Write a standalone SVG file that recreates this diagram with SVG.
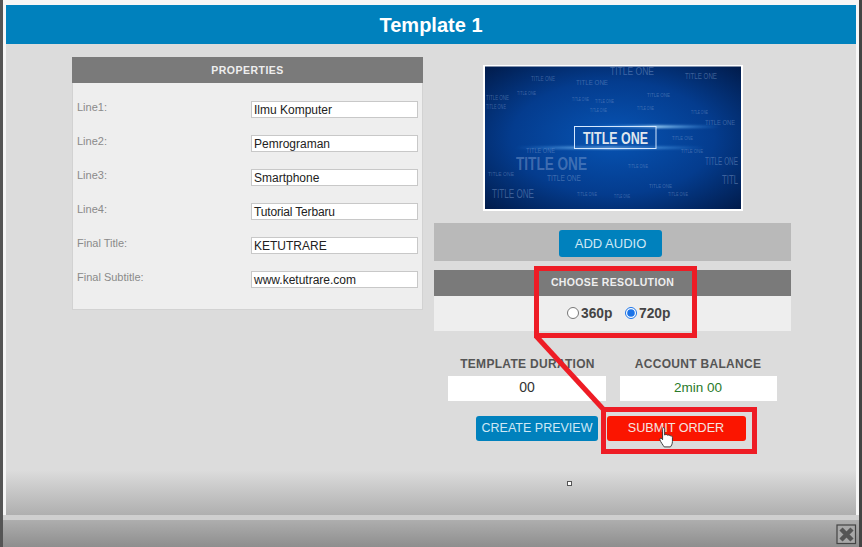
<svg xmlns="http://www.w3.org/2000/svg" width="862" height="547" viewBox="0 0 862 547">
<style>
text{font-family:"Liberation Sans",Arial,sans-serif}
.lbl{font-size:11px;fill:#8a8a8a}
.inp{fill:#fff;stroke:#c8c8c8;stroke-width:1}
.val{font-size:12px;fill:#222}
.hd{fill:#7a7a7a}
.hdt{font-size:10.5px;font-weight:bold;fill:#eee;letter-spacing:.5px;text-anchor:middle}
.btnt{font-size:13px;fill:#cfe8f5;text-anchor:middle}
.fld{font-size:12px;font-weight:bold;fill:#555;text-anchor:middle;letter-spacing:.3px}
.red{fill:none;stroke:#ee1c25;stroke-width:5}
.tt{fill:#8fabd8;fill-opacity:.42}
</style>
<defs>
<linearGradient id="fade" x1="0" y1="0" x2="0" y2="1"><stop offset="0" stop-color="#dcdcdc"/><stop offset="1" stop-color="#afafaf"/></linearGradient>
<linearGradient id="foot" x1="0" y1="0" x2="0" y2="1"><stop offset="0" stop-color="#aeaeae"/><stop offset="1" stop-color="#8e8e8e"/></linearGradient>
<radialGradient id="sky" cx=".5" cy=".5" r=".72"><stop offset="0" stop-color="#0754b4"/><stop offset=".55" stop-color="#043c8e"/><stop offset="1" stop-color="#011a48"/></radialGradient>
<linearGradient id="glow" x1="0" y1="0" x2="1" y2="0"><stop offset="0" stop-color="#3aa0ff" stop-opacity="0"/><stop offset=".5" stop-color="#b5e4ff"/><stop offset="1" stop-color="#3aa0ff" stop-opacity="0"/></linearGradient>
<filter id="soft" x="-10%" y="-300%" width="120%" height="700%"><feGaussianBlur stdDeviation="1.200"/></filter>
</defs>
<rect width="862" height="547" fill="#555"/>
<rect x="3" y="0" width="856" height="547" fill="#f6f6f6"/>
<rect x="6" y="5" width="850" height="510" fill="#dcdcdc"/>
<rect x="6" y="470" width="850" height="45" fill="url(#fade)"/>
<rect x="0" y="515" width="862" height="5" fill="#cfcfcf"/>
<rect x="0" y="520" width="862" height="27" fill="url(#foot)"/>
<rect x="0" y="0" width="3" height="547" fill="#555"/>
<rect x="859" y="0" width="3" height="547" fill="#444"/>

<g id="title-bar">
<rect x="6" y="5" width="850" height="39" fill="#0081bd"/>
<text x="431" y="32" font-size="20" font-weight="bold" fill="#fff" text-anchor="middle">Template 1</text>
</g>

<g id="properties">
<rect x="72.500" y="57.500" width="350" height="252" fill="#eee" stroke="#d2d2d2"/>
<rect x="72" y="57" width="351" height="26" class="hd"/>
<text x="247.500" y="74" class="hdt">PROPERTIES</text>
<g id="line1"><text x="77" y="111" class="lbl">Line1:</text><rect x="251.500" y="101.500" width="166" height="16" class="inp"/><text x="254" y="113.500" class="val">Ilmu Komputer</text></g>
<g id="line2"><text x="77" y="145" class="lbl">Line2:</text><rect x="251.500" y="135.500" width="166" height="16" class="inp"/><text x="254" y="147.500" class="val">Pemrograman</text></g>
<g id="line3"><text x="77" y="179" class="lbl">Line3:</text><rect x="251.500" y="169.500" width="166" height="16" class="inp"/><text x="254" y="181.500" class="val">Smartphone</text></g>
<g id="line4"><text x="77" y="213" class="lbl">Line4:</text><rect x="251.500" y="203.500" width="166" height="16" class="inp"/><text x="254" y="215.500" class="val" textLength="81">Tutorial Terbaru</text></g>
<g id="final-title"><text x="77" y="247" class="lbl">Final Title:</text><rect x="251.500" y="237.500" width="166" height="16" class="inp"/><text x="254" y="249.500" class="val">KETUTRARE</text></g>
<g id="final-subtitle"><text x="77" y="281" class="lbl">Final Subtitle:</text><rect x="251.500" y="271.500" width="166" height="16" class="inp"/><text x="254" y="284" class="val">www.ketutrare.com</text></g>
</g>

<g id="thumbnail">
<rect x="483" y="65" width="260" height="146" fill="#fff"/>
<rect x="485" y="66.500" width="256" height="142.500" fill="url(#sky)"/>
<g>
<text x="516" y="170" font-size="19" font-weight="bold" class="tt" textLength="71" lengthAdjust="spacingAndGlyphs">TITLE ONE</text>
<text x="492" y="198" font-size="12" class="tt" textLength="42" lengthAdjust="spacingAndGlyphs">TITLE ONE</text>
<text x="547" y="181" font-size="9" class="tt" textLength="34" lengthAdjust="spacingAndGlyphs">TITLE ONE</text>
<text x="610" y="75" font-size="11" class="tt" textLength="44" lengthAdjust="spacingAndGlyphs">TITLE ONE</text>
<text x="685" y="79" font-size="9" class="tt" textLength="32" lengthAdjust="spacingAndGlyphs">TITLE ONE</text>
<text x="531" y="81" font-size="7" class="tt" textLength="24" lengthAdjust="spacingAndGlyphs">TITLE ONE</text>
<text x="576" y="85" font-size="8" class="tt" textLength="32" lengthAdjust="spacingAndGlyphs">TITLE ONE</text>
<text x="486" y="100" font-size="7" class="tt" textLength="23" lengthAdjust="spacingAndGlyphs">TITLE ONE</text>
<text x="486" y="109" font-size="7" class="tt" textLength="20" lengthAdjust="spacingAndGlyphs">TITLE ONE</text>
<text x="517" y="95" font-size="6" class="tt" textLength="19" lengthAdjust="spacingAndGlyphs">TITLE ONE</text>
<text x="705" y="125" font-size="8" class="tt" textLength="30" lengthAdjust="spacingAndGlyphs">TITLE ONE</text>
<text x="705" y="165" font-size="10" class="tt" textLength="33" lengthAdjust="spacingAndGlyphs">TITLE ONE</text>
<text x="722" y="184" font-size="13" class="tt" textLength="16" lengthAdjust="spacingAndGlyphs">TITL</text>
<text x="526" y="153" font-size="7" class="tt" textLength="29" lengthAdjust="spacingAndGlyphs">TITLE ONE</text>
<text x="649" y="188" font-size="6" class="tt" textLength="23" lengthAdjust="spacingAndGlyphs">TITLE ONE</text>
<text x="668" y="196" font-size="6" class="tt" textLength="20" lengthAdjust="spacingAndGlyphs">TITLE ONE</text>
<text x="572" y="101" font-size="5" class="tt" textLength="17" lengthAdjust="spacingAndGlyphs">TITLE ONE</text>
<text x="595" y="103" font-size="5" class="tt" textLength="19" lengthAdjust="spacingAndGlyphs">TITLE ONE</text>
<text x="647" y="97" font-size="5" class="tt" textLength="23" lengthAdjust="spacingAndGlyphs">TITLE ONE</text>
<text x="590" y="112" font-size="5" class="tt" textLength="17" lengthAdjust="spacingAndGlyphs">TITLE ONE</text>
<text x="637" y="110" font-size="5" class="tt" textLength="17" lengthAdjust="spacingAndGlyphs">TITLE ONE</text>
<text x="691" y="114" font-size="5" class="tt" textLength="17" lengthAdjust="spacingAndGlyphs">TITLE ONE</text>
<text x="672" y="140" font-size="6" class="tt" textLength="21" lengthAdjust="spacingAndGlyphs">TITLE ONE</text>
<text x="681" y="153" font-size="6" class="tt" textLength="22" lengthAdjust="spacingAndGlyphs">TITLE ONE</text>
<text x="488" y="176" font-size="6" class="tt" textLength="26" lengthAdjust="spacingAndGlyphs">TITLE ONE</text>
<text x="628" y="168" font-size="5" class="tt" textLength="20" lengthAdjust="spacingAndGlyphs">TITLE ONE</text>
<text x="577" y="196" font-size="5" class="tt" textLength="20" lengthAdjust="spacingAndGlyphs">TITLE ONE</text>
<text x="614" y="198" font-size="5" class="tt" textLength="16" lengthAdjust="spacingAndGlyphs">TITLE ONE</text>
</g>
<rect x="590" y="125.500" width="130" height="2.500" fill="url(#glow)" filter="url(#soft)"/>
<rect x="515" y="146.500" width="190" height="2.500" fill="url(#glow)" filter="url(#soft)"/>
<rect x="574.500" y="126.500" width="81.500" height="22" fill="#0a4fa8" fill-opacity=".45" stroke="#d5e8ff" stroke-width="1"/>
<text x="583" y="144" font-size="17" font-weight="bold" fill="#dfe6ee" textLength="65" lengthAdjust="spacingAndGlyphs">TITLE ONE</text>
</g>

<g id="add-audio">
<rect x="434" y="223" width="357" height="38" fill="#b9b9b9"/>
<rect x="559" y="230" width="103" height="27" rx="3" fill="#0081bd"/>
<text x="610.500" y="248" class="btnt">ADD AUDIO</text>
</g>

<g id="choose-resolution">
<rect x="434" y="296" width="357" height="35" fill="#eee"/>
<rect x="434" y="270" width="357" height="26" class="hd"/>
<text x="612.500" y="286" class="hdt" style="letter-spacing:.35px">CHOOSE RESOLUTION</text>
<circle cx="573" cy="313" r="5.500" fill="#fff" stroke="#777"/>
<text x="581" y="318" font-size="13.800" font-weight="bold" fill="#444">360p</text>
<circle cx="631" cy="313" r="5.500" fill="#fff" stroke="#1a73e8"/>
<circle cx="631" cy="313" r="3.800" fill="#1a73e8"/>
<text x="639" y="318" font-size="13.800" font-weight="bold" fill="#444">720p</text>
</g>

<g id="template-duration">
<text x="527.500" y="368" class="fld">TEMPLATE DURATION</text>
<rect x="448" y="376" width="158" height="25" fill="#fff"/>
<text x="527" y="392" font-size="14" fill="#333" text-anchor="middle">00</text>
</g>

<g id="account-balance">
<text x="698" y="368" class="fld">ACCOUNT BALANCE</text>
<rect x="620" y="376" width="157" height="25" fill="#fff"/>
<text x="698" y="392" font-size="13.500" fill="#2a7a2a" text-anchor="middle">2min 00</text>
</g>

<g id="create-preview">
<rect x="476" y="416" width="122" height="25" rx="3" fill="#0081bd"/>
<text x="537" y="432" class="btnt" style="font-size:12.500px">CREATE PREVIEW</text>
</g>

<g id="submit-order">
<rect x="607" y="416" width="139" height="25" rx="3" fill="#fb1500"/>
<text x="676" y="432" font-size="12.600" fill="#f4e4e0" text-anchor="middle">SUBMIT ORDER</text>
</g>

<g id="connectors">
<rect class="red" x="536.500" y="268.500" width="158" height="67"/>
<path class="red" d="M536 336L604 410"/>
<rect class="red" x="603.500" y="409.500" width="151" height="42"/>
</g>

<g id="cursor">
<path transform="translate(663 428) scale(.82 .88) translate(-664 -428)" d="M664 427.500c1.300 0 2 .8 2 2v6.500c1-.8 3-.8 3.500.3 1-.6 2.800-.4 3.300.7 1.200-.4 2.700.2 2.700 1.800v4.500c0 3-1.500 5.200-2.500 6.200h-7.500c-1.500-2-4.500-6-5.300-8-.6-1.500 1-2.600 2.300-1.400l1 1.200v-11.300c0-1.300.5-2.500.5-2.500z" fill="#fff" stroke="#333" stroke-width="1.100"/>
</g>

<g id="marker-dot"><rect x="567.500" y="481.500" width="4" height="4" fill="#fff" stroke="#555" stroke-width="1"/></g>

<g id="close-button">
<rect x="837" y="525" width="18.500" height="18.500" fill="#a8a8a8" stroke="#444" stroke-width="1.200"/>
<path d="M841 529L852 540M852 529L841 540" stroke="#555" stroke-width="4.500"/>
</g>
</svg>
